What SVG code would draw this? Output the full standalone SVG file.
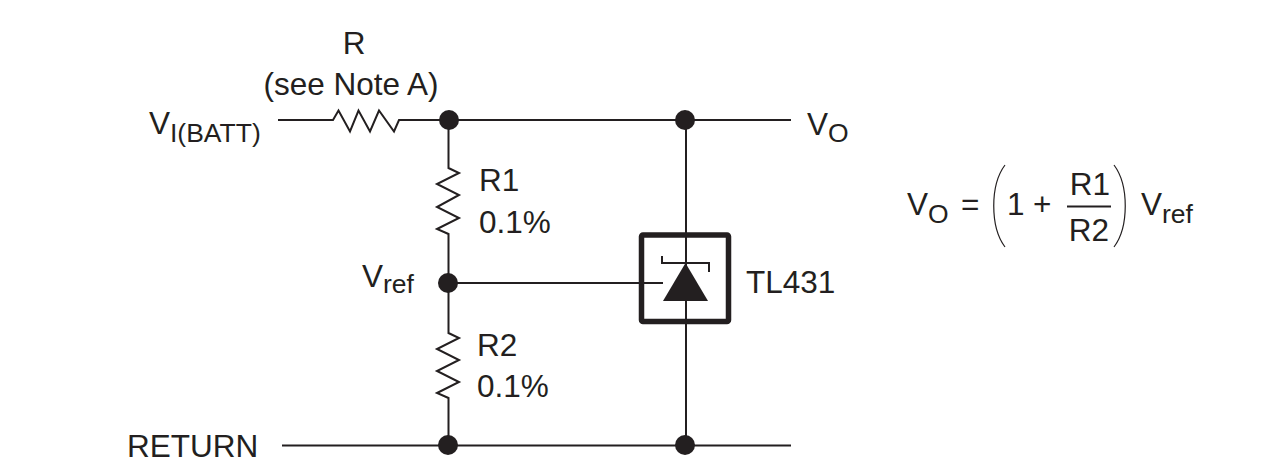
<svg xmlns="http://www.w3.org/2000/svg" width="1267" height="471" viewBox="0 0 1267 471">
<style>
text{font-family:"Liberation Sans",Arial,sans-serif;font-size:31.500px;fill:#231f20}
.s{font-size:26.500px}
.m{text-anchor:middle}
.w{fill:none;stroke:#231f20;stroke-width:2;stroke-linejoin:miter}
.d{fill:#231f20}
</style>
<rect width="1267" height="471" fill="#fff"/>
<g id="connectors">
<path class="w" d="M278 120H333L338.500 110.500L350 131.500L358.500 110.500L370 131.500L379 110.500L394 131.500L399 120H791"/>
<path class="w" d="M448.500 120V168L459 173L437 184L459 195L437 207L459 218L437 229L448.500 234V333L459 338L437 349L459 360L437 371L459 382L437 393L448.500 398V445"/>
<path class="w" d="M448 283H663"/>
<path class="w" d="M686 120V445"/>
<path class="w" d="M282 445.500H791"/>
</g>
<g id="node-vin"><text x="149" y="134">V</text><text class="s" x="170" y="142">I(BATT)</text></g>
<g id="node-r"><text class="m" x="354" y="53.500">R</text><text class="m" x="351" y="95">(see Note A)</text></g>
<g id="node-vo"><text x="807" y="134.500">V</text><text class="s" x="828" y="141.500">O</text></g>
<g id="node-r1"><text x="479" y="191">R1</text><text x="479" y="232.500">0.1%</text></g>
<g id="node-r2"><text x="477" y="356">R2</text><text x="477" y="396.500">0.1%</text></g>
<g id="node-vref"><text x="362" y="287">V</text><text class="s" x="383" y="292.500">ref</text></g>
<g id="node-return"><text x="127" y="457">RETURN</text></g>
<g id="junctions">
<circle class="d" cx="449" cy="120" r="10"/>
<circle class="d" cx="448" cy="283" r="10"/>
<circle class="d" cx="448" cy="445" r="10"/>
<circle class="d" cx="685" cy="120" r="10"/>
<circle class="d" cx="685" cy="445" r="10"/>
</g>
<g id="node-tl431">
<rect x="641.500" y="235" width="87" height="86.500" rx="1.500" fill="none" stroke="#231f20" stroke-width="5.500"/>
<path class="d" d="M685.500 263L708 301H663Z"/>
<path class="w" d="M662 256V263H709V272"/>
<text x="746" y="293">TL431</text>
</g>
<g id="equation">
<text x="907" y="215">V</text><text class="s" x="928" y="222.500">O</text>
<text x="961" y="215">=</text>
<path fill="none" stroke="#231f20" stroke-width="1.200" d="M1005 165C990 185 990 227 1005 247"/>
<text x="1007" y="215">1</text><text x="1033" y="215">+</text>
<text class="m" x="1090" y="194.500">R1</text>
<path class="w" d="M1067 206.500H1111"/>
<text class="m" x="1089" y="240.500">R2</text>
<path fill="none" stroke="#231f20" stroke-width="1.200" d="M1114 165C1129 185 1129 227 1114 247"/>
<text x="1141" y="215">V</text><text class="s" x="1162" y="222.500">ref</text>
</g>
</svg>
